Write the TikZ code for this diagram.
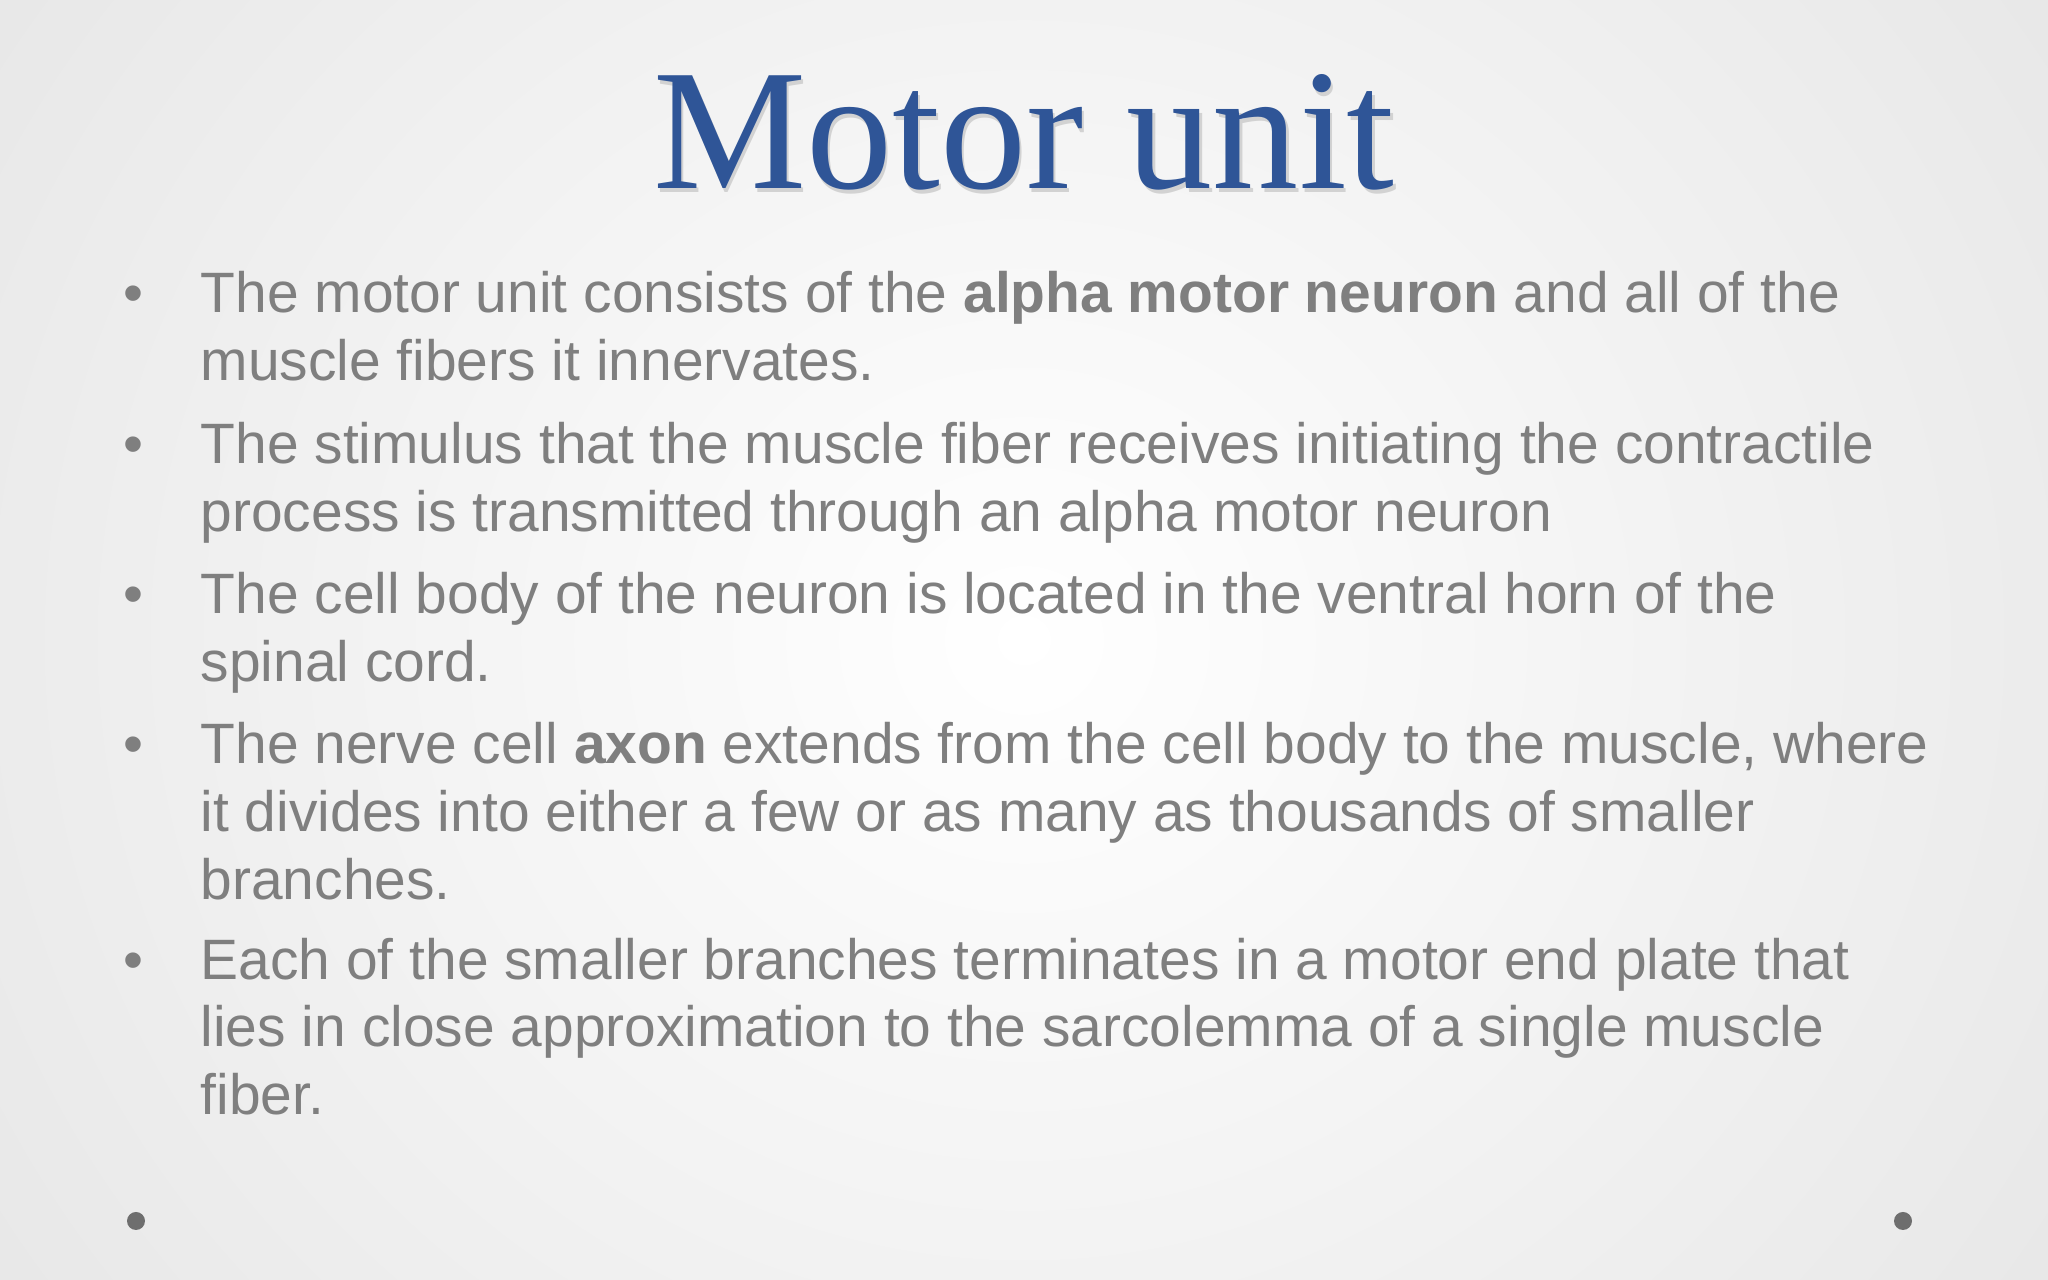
\documentclass[tikz,border=0pt]{standalone}
\usepackage{fontspec}
\setmainfont{Liberation Sans}
\newfontfamily\titlefont{Liberation Serif}
\definecolor{titleblue}{HTML}{2F5597}
\definecolor{txtgray}{HTML}{7F7F7F}
\definecolor{dotgray}{HTML}{6E6E6E}
\definecolor{bgedge}{HTML}{E6E6E6}
\begin{document}
\begin{tikzpicture}[x=1cm,y=1cm,
  ln/.style={anchor=base west,inner sep=0pt,text=txtgray,font=\fontsize{16.2}{18}\selectfont},
  bul/.style={anchor=base,inner sep=0pt,text=txtgray,font=\fontsize{16.2}{18}\selectfont}]
\useasboundingbox (0,0) rectangle (20.48,12.8);
\begin{scope}
\clip (0,0) rectangle (20.48,12.8);
\shade[inner color=white,outer color=bgedge] (-3,-6) rectangle (23.48,18.8);
\end{scope}
\node[anchor=base,inner sep=0pt,text=gray!35,font=\titlefont\fontsize{49}{52}\selectfont] at (10.265,10.875) {Motor unit};
\node (title)[anchor=base,inner sep=0pt,text=titleblue,font=\titlefont\fontsize{49}{52}\selectfont] at (10.24,10.91) {Motor unit};
\foreach \y in {3.13,4.64,6.14,7.64,9.80}{
  \node[bul] at (1.33,12.8-\y) {•};}
\node (l1)[ln] at (2.0,12.8-3.13) {The motor unit consists of the \textbf{alpha motor neuron} and all of the};
\node (l2)[ln] at (2.0,12.8-3.81) {muscle fibers it innervates.};
\node (l3)[ln] at (2.0,12.8-4.64) {The stimulus that the muscle fiber receives initiating the contractile};
\node (l4)[ln] at (2.0,12.8-5.32) {process is transmitted through an alpha motor neuron};
\node (l5)[ln] at (2.0,12.8-6.14) {The cell body of the neuron is located in the ventral horn of the};
\node (l6)[ln] at (2.0,12.8-6.82) {spinal cord.};
\node (l7)[ln] at (2.0,12.8-7.64) {The nerve cell \textbf{axon} extends from the cell body to the muscle, where};
\node (l8)[ln] at (2.0,12.8-8.32) {it divides into either a few or as many as thousands of smaller};
\node (l9)[ln] at (2.0,12.8-9.00) {branches.};
\node (l10)[ln] at (2.0,12.8-9.80) {Each of the smaller branches terminates in a motor end plate that};
\node (l11)[ln] at (2.0,12.8-10.47) {lies in close approximation to the sarcolemma of a single muscle};
\node (l12)[ln] at (2.0,12.8-11.15) {fiber.};
\fill[dotgray] (1.36,12.8-12.21) circle (0.09);
\fill[dotgray] (19.03,12.8-12.21) circle (0.09);
\end{tikzpicture}
\end{document}
